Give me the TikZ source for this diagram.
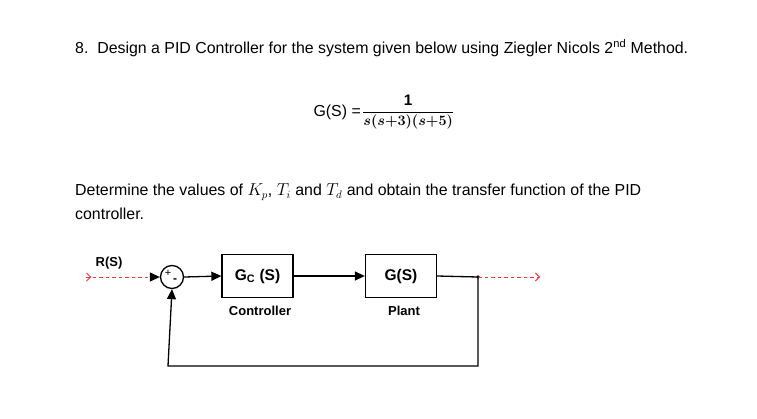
\documentclass[tikz,border=0pt]{standalone}
\usepackage{amsmath}
\usepackage{bm}
\usepackage{fontspec}
\setmainfont{Liberation Sans}
\usetikzlibrary{arrows.meta}
\begin{document}
\begin{tikzpicture}[x=1pt,y=-1pt,
 blk/.style={draw,line width=1.3pt,minimum width=71pt,minimum height=43pt,inner sep=0pt},
 ln/.style={line width=1.3pt},
 arr/.style={ln,-{Triangle[length=10pt,width=9pt]}},
 red/.style={draw=red!80,dashed,line width=1pt,dash pattern=on 3.5pt off 3pt},
 txt/.style={font=\fontsize{15.9}{18}\selectfont,inner sep=0pt}]
\useasboundingbox (0,0) rectangle (757,418);
\node[txt,anchor=west] (title) at (75,48) {8.\ \ Design a PID Controller for the system given below using Ziegler Nicols 2\textsuperscript{nd} Method.};
\node[txt,anchor=east] (gs) at (361,112) {G(S) =};
\node[inner sep=0pt,anchor=west] (frac) at (362,112) {\fontsize{15.3}{17}\selectfont$\displaystyle\frac{\mathbf{1}}{\bm{s(s{+}3)(s{+}5)}}$};
\node[txt,anchor=west] (det) at (75,192) {Determine the values of $K_p$, $T_i$ and $T_d$ and obtain the transfer function of the PID};
\node[txt,anchor=west] (ctl) at (75,214) {controller.};
\node[font=\bfseries\fontsize{13}{15}\selectfont,inner sep=0pt] (rs) at (109,263) {R(S)};
\coordinate (in) at (86,277);
\node[draw,circle,line width=1.3pt,minimum size=23pt,inner sep=0pt] (sum) at (172,277) {};
\node[font=\fontsize{11}{12}\selectfont,inner sep=0pt] (plus) at (168,273) {+};
\node[font=\bfseries\fontsize{12}{12}\selectfont,inner sep=0pt] (minus) at (175,281) {-};
\node[blk,font=\bfseries\fontsize{15.5}{17}\selectfont] (gc) at (257.5,276) {G\textsubscript{C} (S)};
\node[blk,font=\bfseries\fontsize{15.5}{17}\selectfont] (g) at (401,276) {G(S)};
\node[font=\bfseries\fontsize{13}{15}\selectfont,inner sep=0pt] (cl) at (260,311) {Controller};
\node[font=\bfseries\fontsize{13}{15}\selectfont,inner sep=0pt] (pl) at (404,311) {Plant};
\coordinate (tap) at (478,277);
\coordinate (out) at (540,277);
\coordinate (bl) at (478,366);
\coordinate (br) at (168,366);
\draw[red] (in) -- (150,277);
\draw[red,{Straight Barb[reversed,length=4pt,width=8pt]}-] (in) -- (90,277);
\draw[arr] (150,277) -- (sum.west);
\draw[arr] (sum.east) -- (gc.west);
\draw[arr] (gc.east) -- (g.west);
\draw[ln] (g.east) -- (tap);
\fill (tap) circle (1.8pt);
\draw[red,-{Straight Barb[length=4pt,width=8pt]}] (tap) -- (out);
\draw[arr] (tap) -- (bl) -- (br) -- (sum.south);
\end{tikzpicture}
\end{document}
